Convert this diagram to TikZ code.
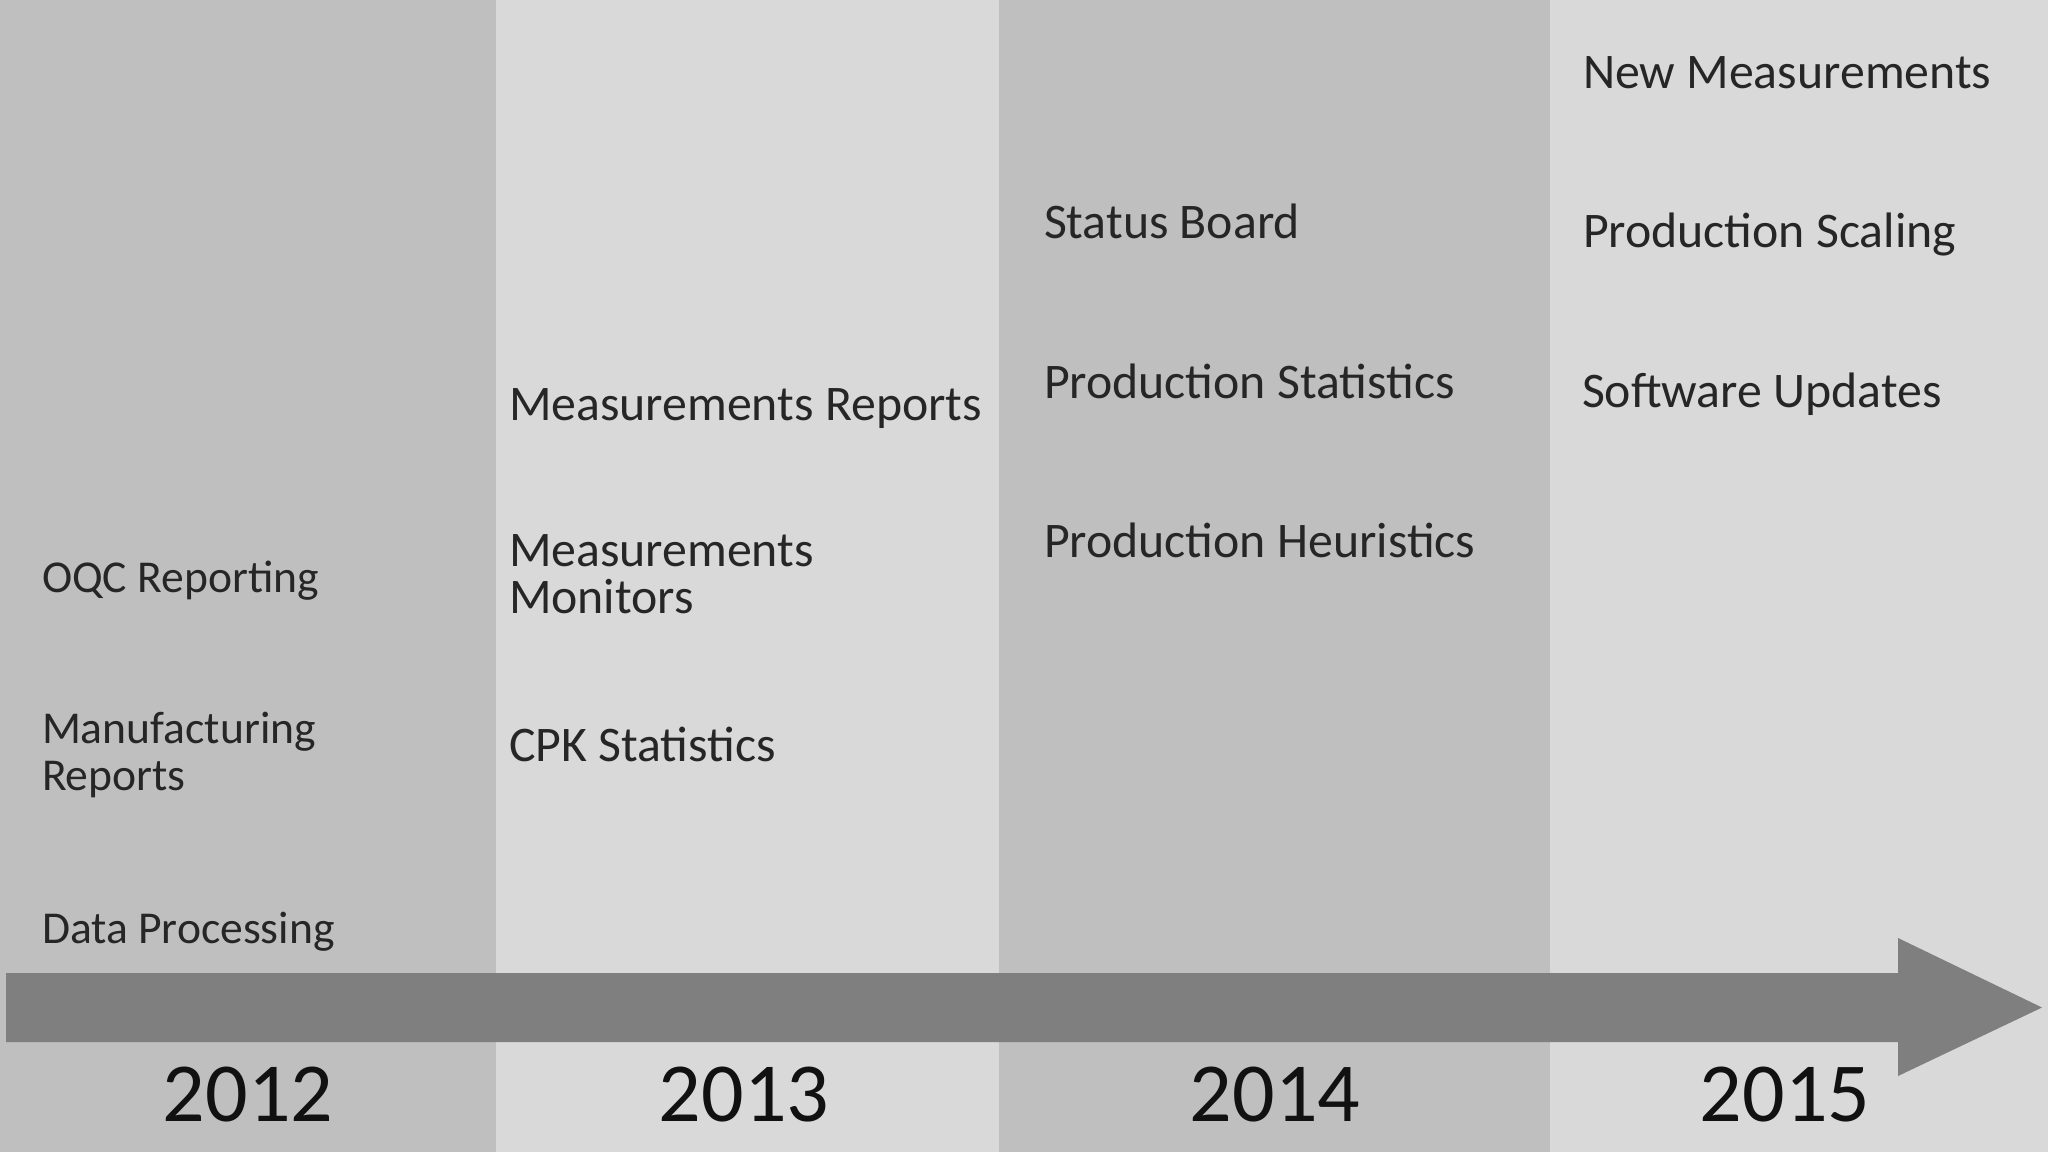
\documentclass[tikz,border=0pt]{standalone}
\usepackage{fontspec}
\setmainfont{Carlito}
\definecolor{colDark}{HTML}{BFBFBF}
\definecolor{colLight}{HTML}{D9D9D9}
\definecolor{arrowGray}{HTML}{7F7F7F}
\definecolor{txtGray}{HTML}{262626}
\definecolor{yearGray}{HTML}{111111}
\tikzset{
  item/.style={anchor=base west, inner sep=0pt, outer sep=0pt, text=txtGray,
    font=\fontsize{49.8}{46.5}\selectfont, align=left},
  itemsmall/.style={item, font=\fontsize{45.6}{47}\selectfont},
  yearlabel/.style={anchor=base, inner sep=0pt, outer sep=0pt, text=yearGray,
    font=\fontsize{84}{90}\selectfont},
}
\begin{document}
\begin{tikzpicture}[x=1pt,y=-1pt]
\useasboundingbox (0,0) rectangle (2048,1152);
% columns
\fill[colDark]  (0,0) rectangle (496,1152);
\fill[colLight] (496,0) rectangle (999,1152);
\fill[colDark]  (999,0) rectangle (1550,1152);
\fill[colLight] (1550,0) rectangle (2048,1152);
% timeline arrow
\fill[arrowGray] (6,973) -- (1898,973) -- (1898,938) -- (2042,1007.5) -- (1898,1076) -- (1898,1042) -- (6,1042) -- cycle;
% 2012
\node[itemsmall] (oqc) at (42,592) {OQC Reporting};
\node[itemsmall] (mfg) at (42,790) {Manufacturing\\Reports};
\node[itemsmall] (dp) at (42,943) {Data Processing};
% 2013
\node[item] (mr) at (509,420) {Measurements Reports};
\node[item] (mm) at (509,613) {Measurements\\Monitors};
\node[item] (cpk) at (509,761) {CPK Statistics};
% 2014
\node[item] (sb) at (1044,238) {Status Board};
\node[item] (ps) at (1044,398) {Production Statistics};
\node[item] (ph) at (1044,557) {Production Heuristics};
% 2015
\node[item] (nm) at (1583,88) {New Measurements};
\node[item] (psc) at (1583,247) {Production Scaling};
\node[item] (su) at (1582,407) {Software Updates};
% years
\node[yearlabel] (y12) at (248,1121) {2012};
\node[yearlabel] (y13) at (744,1121) {2013};
\node[yearlabel] (y14) at (1275,1121) {2014};
\node[yearlabel] (y15) at (1785,1121) {2015};
\end{tikzpicture}
\end{document}
